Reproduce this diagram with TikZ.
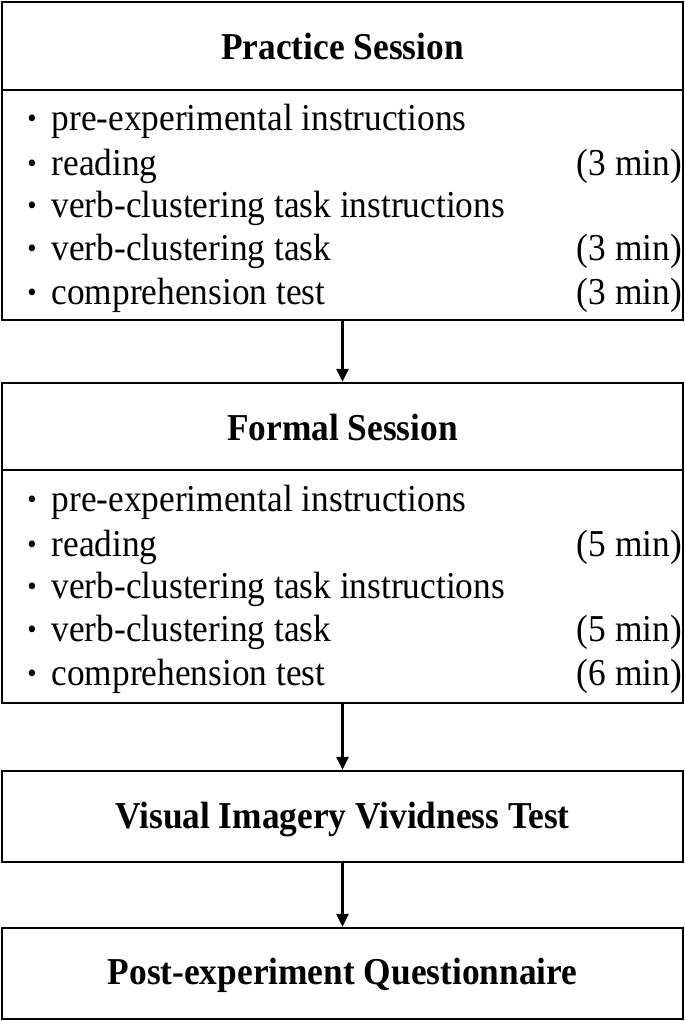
\documentclass[tikz,border=0pt]{standalone}
\usepackage{fontspec}
\setmainfont{Liberation Serif}
\newfontfamily\cjk{Noto Sans CJK JP}
\usetikzlibrary{positioning,arrows.meta}
\tikzset{
  stagebox/.style={draw, line width=2.4pt, minimum width=681pt, inner sep=0pt},
  stagetitle/.style={anchor=base, inner sep=0pt, xscale=0.93, font=\fontsize{38}{42}\selectfont\bfseries},
  item/.style={anchor=base west, inner sep=0pt, xscale=0.93, font=\fontsize{38}{42}\selectfont},
  duration/.style={anchor=base east, inner sep=0pt, xscale=0.93, font=\fontsize{38}{42}\selectfont},
  flow/.style={-{Triangle[length=13pt,width=12pt]}, line width=2.4pt}
}
\newcommand{\bul}{{\cjk\fontsize{32}{36}\selectfont ・}\hspace{5pt}}
\begin{document}
\begin{tikzpicture}[x=1pt, y=-1pt]
        \useasboundingbox (0,0) rectangle (685,1021);

        % Practice Session
        \node[stagebox, minimum height=88pt] (ps) at (342.5,46) {};
        \node[stagebox, minimum height=230pt] (psb) at (342.5,205) {};
        \node[stagetitle] (pst) at (342.5,59) {Practice Session};
        \node[item] (p1) at (17,130) {\bul pre-experimental instructions};
        \node[item] (p2) at (17,175) {\bul reading};
        \node[item] (p3) at (17,217) {\bul verb-clustering task instructions};
        \node[item] (p4) at (17,260) {\bul verb-clustering task};
        \node[item] (p5) at (17,304) {\bul comprehension test};
        \node[duration] (pt2) at (682,175) {(3 min)};
        \node[duration] (pt4) at (682,260) {(3 min)};
        \node[duration] (pt5) at (682,304) {(3 min)};

        % Formal Session
        \node[stagebox, minimum height=87pt] (fs) at (342.5,426.5) {};
        \node[stagebox, minimum height=233pt] (fsb) at (342.5,586.5) {};
        \node[stagetitle] (fst) at (342.5,440) {Formal Session};
        \node[item] (f1) at (17,511) {\bul pre-experimental instructions};
        \node[item] (f2) at (17,556) {\bul reading};
        \node[item] (f3) at (17,598) {\bul verb-clustering task instructions};
        \node[item] (f4) at (17,641) {\bul verb-clustering task};
        \node[item] (f5) at (17,685) {\bul comprehension test};
        \node[duration] (ft2) at (682,556) {(5 min)};
        \node[duration] (ft4) at (682,641) {(5 min)};
        \node[duration] (ft5) at (682,685) {(6 min)};

        % Tests afterwards
        \node[stagebox, minimum height=91pt] (vivt) at (342.5,816.5) {};
        \node[stagetitle] (vivtt) at (342.5,828) {Visual Imagery Vividness Test};
        \node[stagebox, minimum height=91pt] (pq) at (342.5,973.5) {};
        \node[stagetitle] (pqt) at (342.5,984) {Post-experiment Questionnaire};

        % Arrows between the stages
        \draw[flow] (psb.south) -- (fs.north);
        \draw[flow] (fsb.south) -- (vivt.north);
        \draw[flow] (vivt.south) -- (pq.north);
      \end{tikzpicture}
\end{document}
